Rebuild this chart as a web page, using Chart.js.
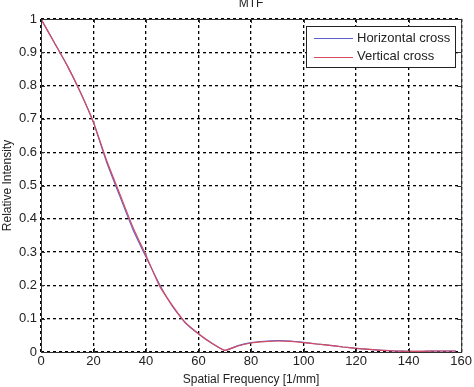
<!DOCTYPE html>
<html>
<head>
<meta charset="utf-8">
<script src="https://cdn.jsdelivr.net/npm/chart.js@4.4.1/dist/chart.umd.min.js"></script>
<style>
  html, body { margin: 0; padding: 0; background: #fff; }
  #wrap { width: 474px; height: 387px; }
</style>
</head>
<body>
<div id="wrap"><canvas id="mtf"></canvas></div>
<script>
// valores
const freq = [0, 5, 10, 15, 20, 25, 30, 35, 40, 45, 50, 55, 60, 65, 70, 75, 80, 85, 90, 95, 100, 105, 110, 115, 120, 125, 130, 135, 140, 145, 150, 155, 158];
const horizontal = [1.0, 0.93, 0.86, 0.78, 0.688, 0.57, 0.468, 0.368, 0.285, 0.205, 0.138, 0.087, 0.054, 0.026, 0.005, 0.019, 0.028, 0.032, 0.034, 0.033, 0.029, 0.024, 0.02, 0.015, 0.011, 0.008, 0.005, 0.003, 0.002, 0.002, 0.003, 0.003, 0.003];
const vertical = [1.0, 0.93, 0.86, 0.78, 0.69, 0.575, 0.475, 0.375, 0.29, 0.2, 0.14, 0.088, 0.055, 0.027, 0.005, 0.018, 0.027, 0.031, 0.033, 0.032, 0.028, 0.024, 0.02, 0.015, 0.011, 0.008, 0.005, 0.003, 0.002, 0.002, 0.003, 0.003, 0.003];
const seriesNames = ['Horizontal cross', 'Vertical cross'];
const title = 'MTF';
const xTitle = 'Spatial Frequency [1/mm]';
const yTitle = 'Relative Intensity';

const font = 'Liberation Sans, Arial, sans-serif';
const textColor = '#222';

// caja, titulo y leyenda estilo matlab
const boxPlugin = {
  id: 'box',
  afterDraw(chart) {
    const { ctx, chartArea: a } = chart;
    ctx.save();
    ctx.strokeStyle = '#333';
    ctx.lineWidth = 1;
    ctx.strokeRect(a.left + 0.5, a.top + 0.5, a.right - a.left, a.bottom - a.top);

    // marcas hacia adentro
    const xs = chart.scales.x, ys = chart.scales.y;
    ctx.beginPath();
    xs.ticks.forEach(t => {
      const px = Math.round(xs.getPixelForValue(t.value)) + 0.5;
      ctx.moveTo(px, a.bottom); ctx.lineTo(px, a.bottom - 4);
      ctx.moveTo(px, a.top); ctx.lineTo(px, a.top + 4);
    });
    ys.ticks.forEach(t => {
      const py = Math.round(ys.getPixelForValue(t.value)) + 0.5;
      ctx.moveTo(a.left, py); ctx.lineTo(a.left + 4, py);
      ctx.moveTo(a.right, py); ctx.lineTo(a.right - 4, py);
    });
    ctx.stroke();

    // titulo
    ctx.fillStyle = textColor;
    ctx.font = '12px ' + font;
    ctx.textAlign = 'center';
    ctx.textBaseline = 'middle';
    ctx.fillText(title, (a.left + a.right) / 2, 4);

    // leyenda
    const lx = 306, ly = 26, lw = 149, lh = 41;
    ctx.fillStyle = '#fff';
    ctx.fillRect(lx, ly, lw, lh);
    ctx.strokeStyle = '#222';
    ctx.strokeRect(lx + 0.5, ly + 0.5, lw, lh);
    ctx.font = '13px ' + font;
    ctx.textAlign = 'left';
    chart.data.datasets.forEach((ds, i) => {
      const y = ly + 12 + i * 18.5;
      ctx.strokeStyle = ds.borderColor;
      ctx.beginPath();
      ctx.moveTo(lx + 8, Math.round(y) + 0.5);
      ctx.lineTo(lx + 47, Math.round(y) + 0.5);
      ctx.stroke();
      ctx.fillStyle = textColor;
      ctx.fillText(ds.label, lx + 51, y);
    });
    ctx.restore();
  }
};

const toPoints = (vals) => vals.map((v, i) => ({ x: freq[i], y: v }));

new Chart(document.querySelector('#mtf'), {
  type: 'line',
  data: {
    datasets: [
      {
        label: seriesNames[0],
        data: toPoints(horizontal),
        borderColor: 'rgb(95, 95, 200)',
        borderWidth: 1.2,
        pointRadius: 0,
        tension: 0.15,
        order: 2,
        fill: false
      },
      {
        label: seriesNames[1],
        data: toPoints(vertical),
        borderColor: 'rgb(215, 75, 95)',
        borderWidth: 1.2,
        pointRadius: 0,
        tension: 0.15,
        order: 1,
        fill: false
      }
    ]
  },
  options: {
    responsive: true,
    maintainAspectRatio: false,
    animation: false,
    layout: { padding: { top: 19, right: 10, left: 0, bottom: 0 } },
    plugins: {
      legend: { display: false },
      tooltip: { enabled: false }
    },
    scales: {
      x: {
        type: 'linear',
        min: 0,
        max: 160,
        afterFit(scale) { scale.height = 35; },
        ticks: {
          stepSize: 20,
          color: textColor,
          font: { family: font, size: 13 },
          padding: 2,
          maxRotation: 0
        },
        grid: { color: '#000', drawTicks: false, lineWidth: 1.3 },
        border: { display: false, dash: [3, 3] },
        title: {
          display: true,
          text: xTitle,
          color: textColor,
          font: { family: font, size: 12 },
          padding: { top: 0, bottom: 0 }
        }
      },
      y: {
        min: 0,
        max: 1,
        afterFit(scale) { scale.width = 41; },
        ticks: {
          stepSize: 0.1,
          color: textColor,
          font: { family: font, size: 13 },
          padding: 4,
          callback: (v) => Number(v.toFixed(1)).toString()
        },
        grid: { color: '#000', drawTicks: false, lineWidth: 1.3 },
        border: { display: false, dash: [3, 3] },
        title: {
          display: true,
          text: yTitle,
          color: textColor,
          font: { family: font, size: 12 },
          padding: { top: 0, bottom: 0 }
        }
      }
    }
  },
  plugins: [boxPlugin]
});
</script>
</body>
</html>
